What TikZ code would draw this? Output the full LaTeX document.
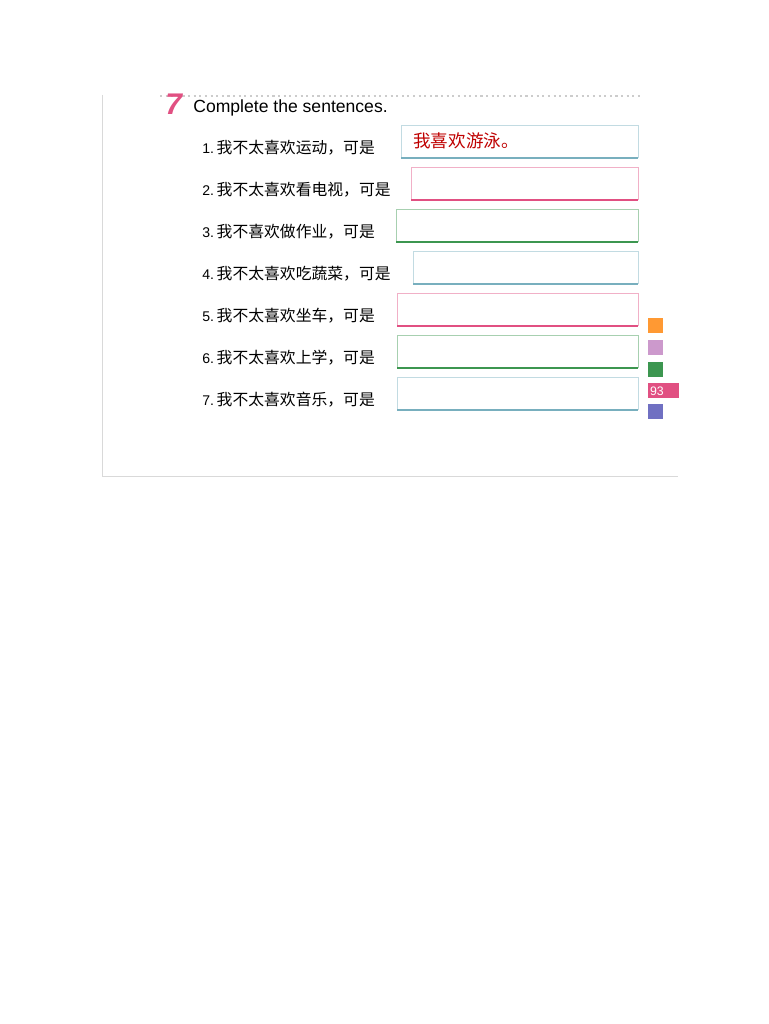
\documentclass[tikz,border=0pt]{standalone}
\usepackage{fontspec}
\setmainfont{Liberation Sans}
\newfontfamily\cjk{Noto Sans CJK SC}
\usetikzlibrary{positioning}

\definecolor{boxblue}{RGB}{120,175,190}
\definecolor{boxpink}{RGB}{225,80,130}
\definecolor{boxgreen}{RGB}{60,150,80}
\definecolor{tabpink}{RGB}{225,80,130}

\tikzset{
  sentence/.style={anchor=west,font=\cjk\fontsize{9}{10}\selectfont,inner sep=0pt},
  answer/.style={anchor=west,font=\cjk\fontsize{10}{11}\selectfont,text=red!75!black,inner sep=0pt},
  tab/.style={minimum width=0.3cm,minimum height=0.3cm,inner sep=0pt,anchor=north west}
}

\begin{document}
\begin{tikzpicture}[x=0.02cm,y=-0.02cm]
\useasboundingbox (0,0) rectangle (768,1024);
\fill[white] (0,0) rectangle (768,1024);

% page edge
\draw[black!15,thin] (102,95) -- (102,476) -- (678,476);
\draw[gray!40,line width=1.2pt,dotted] (160,96) -- (640,96);
\node[anchor=north west,inner sep=0pt,text=tabpink,font=\bfseries\itshape\fontsize{17}{17}\selectfont] (num) at (165,94) {7};
\node[anchor=west,inner sep=0pt,font=\fontsize{10}{11}\selectfont] (title) at (193,108) {Complete the sentences.};

% sentences
\foreach \i/\txt/\bx/\col [count=\n] in {
  1/我不太喜欢运动，可是/401/boxblue,
  2/我不太喜欢看电视，可是/411/boxpink,
  3/我不喜欢做作业，可是/396/boxgreen,
  4/我不太喜欢吃蔬菜，可是/413/boxblue,
  5/我不太喜欢坐车，可是/397/boxpink,
  6/我不太喜欢上学，可是/397/boxgreen,
  7/我不太喜欢音乐，可是/397/boxblue}{
  \pgfmathsetmacro{\ytop}{125+42*(\n-1)}
  \node[sentence] (s\i) at (202,\ytop+23) {{\rmfamily\fontsize{8}{9}\selectfont\i.}\,\txt};
  \draw[\col!45,thin] (\bx,\ytop+33) -- (\bx,\ytop) -- (638,\ytop) -- (638,\ytop+33);
  \draw[\col,line width=1.2pt] (\bx,\ytop+33) -- (638,\ytop+33);
  \coordinate (b\i) at (\bx,\ytop+16);
}
\node[answer,right=12 of b1] (ans) {我喜欢游泳。};

% side tabs
\node[tab,fill=orange!80] (t1) at (648,318) {};
\node[tab,fill=violet!40] (t2) at (648,340) {};
\node[tab,fill=boxgreen] (t3) at (648,362) {};
\node[tab,fill=tabpink,minimum width=0.62cm,text=white,font=\fontsize{7}{7}\selectfont,align=left,text width=0.55cm] (t4) at (648,383) {93};
\node[tab,fill=blue!40!gray!80] (t5) at (648,404) {};
\end{tikzpicture}
\end{document}
